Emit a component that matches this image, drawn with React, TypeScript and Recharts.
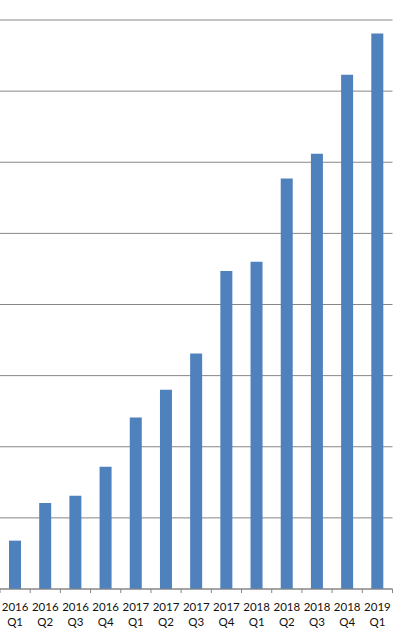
import React from 'react';
import { BarChart, Bar, XAxis, YAxis, CartesianGrid } from 'recharts';

const years = ['2016', '2016', '2016', '2016', '2017', '2017', '2017', '2017', '2018', '2018', '2018', '2018', '2019'];
const quarters = ['Q1', 'Q2', 'Q3', 'Q4', 'Q1', 'Q2', 'Q3', 'Q4', 'Q1', 'Q2', 'Q3', 'Q4', 'Q1'];
const values = [68, 121, 131, 172, 241, 280, 331, 447, 460, 577, 612, 723, 781];
const yTicks = [0, 100, 200, 300, 400, 500, 600, 700, 800];

const data = years.map((y, i) => ({ key: `${y} ${quarters[i]}`, year: y, quarter: quarters[i], value: values[i] }));

const W = 402;
const H = 635;
const MARGIN = { top: 20, right: 9.5, left: 0, bottom: 0 };
const AXIS_H = 46;
const PLOT_W = W - MARGIN.left - MARGIN.right;
const HALF_BAND = PLOT_W / data.length / 2;
const GRID = '#868686';
const TEXT = '#111111';

const Tick = (props: any) => {
  const { x, y, index } = props;
  const d = data[index] || { year: '', quarter: '' };
  const last = index === data.length - 1;
  return (
    <g>
      <line x1={x - HALF_BAND} x2={x - HALF_BAND} y1={y - 4} y2={y} stroke={GRID} strokeWidth={1} />
      {last && <line x1={x + HALF_BAND} x2={x + HALF_BAND} y1={y - 4} y2={y} stroke={GRID} strokeWidth={1} />}
      <text x={x} y={y + 17.8} textAnchor="middle" fontSize={11.5} fill={TEXT} fontFamily="Lato, 'Open Sans', sans-serif">
        {d.year}
      </text>
      <text x={x} y={y + 33} textAnchor="middle" fontSize={11.5} fill={TEXT} fontFamily="Lato, 'Open Sans', sans-serif">
        {d.quarter}
      </text>
    </g>
  );
};

export default function App() {
  return (
    <div style={{ position: 'absolute', left: 0, top: 0, width: W, height: H, background: '#fff' }}>
      <BarChart width={W} height={H} data={data} margin={MARGIN}>
        <CartesianGrid vertical={false} stroke={GRID} strokeWidth={1} />
        <YAxis hide domain={[0, 800]} ticks={yTicks} width={0} />
        <XAxis
          dataKey="key"
          height={AXIS_H}
          interval={0}
          axisLine={{ stroke: GRID, strokeWidth: 1 }}
          tickLine={false}
          tickSize={4}
          tickMargin={0}
          tick={<Tick />}
        />
        <Bar dataKey="value" fill="#4F81BD" barSize={12} isAnimationActive={false} />
      </BarChart>
    </div>
  );
}
